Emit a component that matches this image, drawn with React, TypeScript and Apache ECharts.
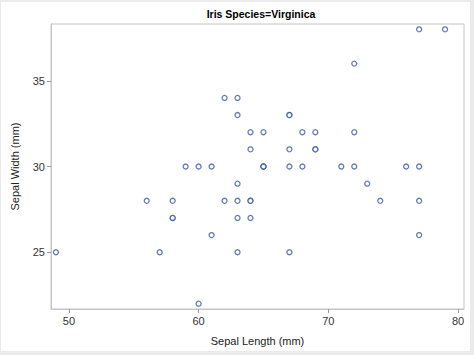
import React, { useEffect, useRef } from "react";
import * as echarts from "echarts";

const sepalLength = [63, 58, 71, 63, 65, 76, 49, 73, 67, 72, 65, 64, 68, 57, 58, 64, 65, 77, 77, 60, 69, 56, 77, 63, 67, 72, 62, 61, 64, 72, 74, 79, 64, 63, 61, 77, 63, 64, 60, 69, 67, 69, 58, 68, 67, 67, 63, 65, 62, 59];
const sepalWidth = [33, 27, 30, 29, 30, 30, 25, 29, 25, 36, 32, 27, 30, 25, 28, 32, 30, 38, 26, 22, 32, 28, 28, 27, 33, 32, 28, 30, 28, 30, 28, 38, 28, 28, 26, 30, 34, 31, 30, 31, 31, 31, 27, 32, 33, 30, 25, 30, 34, 30];
const xTicks = [50, 60, 70, 80];
const yTicks = [25, 30, 35];

export default function App() {
  const ref = useRef<HTMLDivElement>(null);
  useEffect(() => {
    document.body.style.margin = "0";
    const chart = echarts.init(ref.current!, null, { renderer: "svg" });
    const font = "'Liberation Sans', Arial, sans-serif";
    const data = sepalLength.map((x, i) => [x, sepalWidth[i]]);
    chart.setOption({
      animation: false,
      backgroundColor: "#ffffff",
      title: {
        text: "Iris Species=Virginica",
        left: 255,
        textAlign: "center",
        top: 1,
        textStyle: { fontFamily: font, fontSize: 10.5, fontWeight: "bold", color: "#000" },
      },
      grid: {
        left: 48,
        top: 22,
        right: 6,
        bottom: 41,
        show: true,
        borderColor: "#c4c4c4",
        borderWidth: 1,
        backgroundColor: "#ffffff",
      },
      xAxis: {
        type: "value",
        min: 48.62,
        max: 80.46,
        name: "Sepal Length (mm)",
        nameLocation: "middle",
        nameGap: 26,
        nameTextStyle: { fontFamily: font, fontSize: 11, color: "#222" },
        splitLine: { show: false },
        axisLine: { show: true, lineStyle: { color: "#c4c4c4" } },
        axisTick: { show: true, length: 4, customValues: xTicks, lineStyle: { color: "#999" } },
        axisLabel: { customValues: xTicks, fontFamily: font, fontSize: 11, color: "#333", margin: 6 },
      },
      yAxis: {
        type: "value",
        min: 21.69,
        max: 38.31,
        name: "Sepal Width (mm)",
        nameLocation: "middle",
        nameGap: 31,
        nameTextStyle: { fontFamily: font, fontSize: 11, color: "#222" },
        splitLine: { show: false },
        axisLine: { show: true, lineStyle: { color: "#c4c4c4" } },
        axisTick: { show: true, length: 4, customValues: yTicks, lineStyle: { color: "#999" } },
        axisLabel: { customValues: yTicks, fontFamily: font, fontSize: 11, color: "#333", margin: 6 },
      },
      series: [
        {
          type: "scatter",
          data,
          symbol: "circle",
          symbolSize: 5,
          itemStyle: { color: "#ffffff", borderColor: "#3c5aa0", borderWidth: 1.3 },
        },
      ],
    });
    return () => chart.dispose();
  }, []);
  return (
    <div style={{ position: "relative", width: 474, height: 355, background: "#ebebeb" }}>
      <div ref={ref} style={{ position: "absolute", left: 1, top: 2, width: 469, height: 349 }} />
    </div>
  );
}
